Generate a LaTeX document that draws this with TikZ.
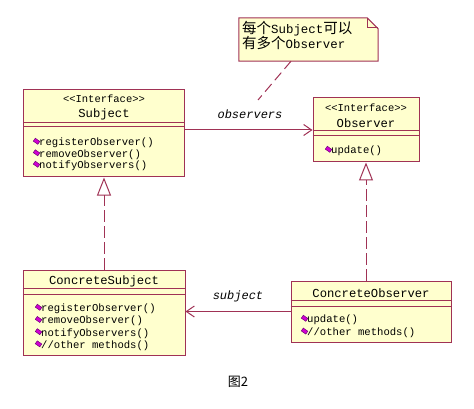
\documentclass[tikz,border=0pt]{standalone}
\usepackage{fontspec}
\setmonofont{Liberation Mono}
\newfontfamily\cjk{Noto Sans CJK SC}
\usepackage{tikz}
\usetikzlibrary{arrows.meta}

\definecolor{umlline}{RGB}{160,50,85}
\definecolor{umlfill}{RGB}{255,255,206}
\definecolor{iconmag}{RGB}{210,0,210}
\definecolor{icondark}{RGB}{110,0,120}

\tikzset{
  cls/.style={draw=umlline,fill=umlfill,line width=1pt,inner sep=0pt},
  sepline/.style={draw=umlline,line width=1pt},
  stereo/.style={inner sep=0pt,font=\ttfamily\fontsize{10.5}{12}\selectfont},
  clsname/.style={inner sep=0pt,font=\ttfamily\fontsize{12.2}{14}\selectfont},
  meticon/.style={rectangle,draw=icondark,fill=iconmag,line width=.5pt,inner sep=0pt,
    minimum width=5.5pt,minimum height=3.5pt,rotate=-35},
  method/.style={anchor=west,inner sep=0pt,font=\ttfamily\fontsize{10.6}{12}\selectfont,
    label={[meticon]left:{}}},
  rolelbl/.style={inner sep=0pt,font=\ttfamily\itshape\fontsize{12}{14}\selectfont},
  assoc/.style={draw=umlline,line width=1pt,-{Straight Barb[length=8pt,width=11pt]}},
  realize/.style={draw=umlline,line width=1pt,dash pattern=on 12pt off 4pt,
    -{Triangle[open,length=18pt,width=14pt]}},
  notelink/.style={draw=umlline,line width=1pt,dash pattern=on 10pt off 5pt},
  notetxt/.style={anchor=west,inner sep=0pt,font=\ttfamily\fontsize{12.4}{14}\selectfont},
}

\begin{document}
\begin{tikzpicture}[x=1pt,y=-1pt]
\useasboundingbox (0,0) rectangle (474,409);

% note
\path (308.5,39.5) node[minimum width=139pt,minimum height=43pt,inner sep=0pt] (note) {};
\filldraw[draw=umlline,fill=umlfill,line width=1pt] (note.north west) -- ([xshift=-11pt]note.north east)
  -- ([yshift=-11pt]note.north east) -- (note.south east) -- (note.south west) -- cycle;
\draw[umlline,line width=1pt] ([xshift=-11pt]note.north east) -- ([xshift=-11pt,yshift=-10pt]note.north east)
  -- ([yshift=-10pt]note.north east);
\path (242,29) node[notetxt] (notel1) {{\cjk\fontsize{14.5}{16}\selectfont 每个}Subject{\cjk\fontsize{14.5}{16}\selectfont 可以}};
\path (242,43) node[notetxt] (notel2) {{\cjk\fontsize{14.5}{16}\selectfont 有多个}Observer};
\coordinate (notetip) at (258,100);
\draw[notelink] ([xshift=-17.5pt]note.south) -- (notetip);

% Subject
\path (104,133.5) node[cls,minimum width=161pt,minimum height=87pt] (subj) {};
\draw[sepline] ([yshift=-32.7pt]subj.north west) -- ([yshift=-32.7pt]subj.north east);
\draw[sepline] ([yshift=-37.3pt]subj.north west) -- ([yshift=-37.3pt]subj.north east);
\path (104,99) node[stereo] (subjst) {<<Interface>>};
\path (104,114) node[clsname] (subjnm) {Subject};
\foreach \m [count=\i] in {registerObserver(),removeObserver(),notifyObservers()}
  \path (39,143+11.5*\i-11.5) node[method] (subjm\i) {\m};

% Observer
\path (366,130) node[cls,minimum width=106pt,minimum height=64pt] (obs) {};
\draw[sepline] ([yshift=-33pt]obs.north west) -- ([yshift=-33pt]obs.north east);
\draw[sepline] ([yshift=-38pt]obs.north west) -- ([yshift=-38pt]obs.north east);
\path (366,108) node[stereo] (obsst) {<<Interface>>};
\path (366,123) node[clsname] (obsnm) {Observer};
\path (331,151) node[method] (obsm1) {update()};

% ConcreteSubject
\path (104,312.5) node[cls,minimum width=162pt,minimum height=85pt] (csubj) {};
\draw[sepline] ([yshift=-19pt]csubj.north west) -- ([yshift=-19pt]csubj.north east);
\draw[sepline] ([yshift=-25pt]csubj.north west) -- ([yshift=-25pt]csubj.north east);
\path (104,281) node[clsname] (csubjnm) {ConcreteSubject};
\foreach \m [count=\i] in {registerObserver(),removeObserver(),notifyObservers(),//other methods()}
  \path (41,309+12.2*\i-12.2) node[method] (csubjm\i) {\m};

% ConcreteObserver
\path (371,311.5) node[cls,minimum width=160pt,minimum height=61pt] (cobs) {};
\draw[sepline] ([yshift=-20pt]cobs.north west) -- ([yshift=-20pt]cobs.north east);
\draw[sepline] ([yshift=-26pt]cobs.north west) -- ([yshift=-26pt]cobs.north east);
\path (371,293) node[clsname] (cobsnm) {ConcreteObserver};
\foreach \m [count=\i] in {update(),//other methods()}
  \path (307,320+12.8*\i-12.8) node[method] (cobsm\i) {\m};

% connectors
\draw[assoc] (subj.east |- obs.west) -- (obs.west);
\path (250,114) node[rolelbl] (lblobs) {observers};
\draw[assoc] (cobs.west) -- (csubj.east |- cobs.west);
\path (238,296) node[rolelbl] (lblsubj) {subject};
\draw[realize] (csubj.north) -- (subj.south);
\draw[realize] (obs.south |- cobs.north) -- (obs.south);

\path (238,382) node[inner sep=0pt,font=\cjk\fontsize{13}{15}\selectfont] (caption) {图2};
\end{tikzpicture}
\end{document}
